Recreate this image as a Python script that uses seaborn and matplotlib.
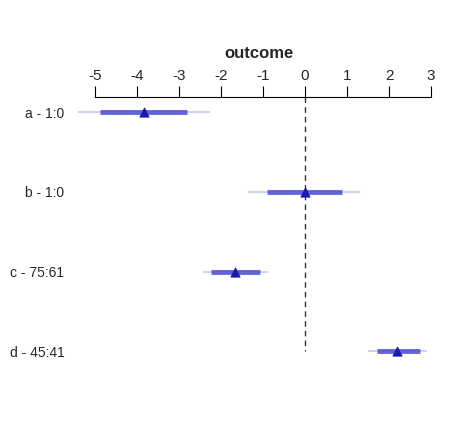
import matplotlib
matplotlib.use("Agg")
import matplotlib.pyplot as plt
import seaborn as sns
import pandas as pd

labels = ["a - 1:0", "b - 1:0", "c - 75:61", "d - 45:41"]
est = [-3.83, 0.0, -1.67, 2.19]
lo95 = [-5.4, -1.36, -2.43, 1.5]
hi95 = [-2.26, 1.31, -0.88, 2.9]
lo80 = [-4.88, -0.9, -2.24, 1.71]
hi80 = [-2.81, 0.88, -1.07, 2.74]
ticks = [-5, -4, -3, -2, -1, 0, 1, 2, 3]

sns.set_style("white")
plt.rcParams['font.family'] = ['Liberation Sans', 'DejaVu Sans']
W, H = 474, 445
fig = plt.figure(figsize=(W/100, H/100), dpi=100)
x0, x1 = -5.5, 3.3
px0 = 95 + (x0 + 5) * 42
px1 = 95 + (x1 + 5) * 42
top, bot = 97, 420
ax = fig.add_axes([px0/W, 1 - bot/H, (px1-px0)/W, (bot-top)/H])
ax.set_xlim(x0, x1)
ax.set_ylim(4.86, 0.81)
ypos = [1, 2, 3, 4]
df = pd.DataFrame({"est": est, "y": ypos})
ax.vlines(0, 0.81, 4, colors="#333333", linestyles=(0, (4, 3)), lw=1)
ax.hlines(ypos, lo95, hi95, colors="#c8c8f0", lw=1.2, zorder=2)
ax.hlines(ypos, lo80, hi80, colors="#5555d5", lw=3.5, alpha=0.9, zorder=3)
sns.scatterplot(data=df, x="est", y="y", marker="^", s=45, color="#1a1ab0", edgecolor="#1a1ab0", ax=ax, zorder=4)
for s in ["left", "right", "bottom"]:
    ax.spines[s].set_visible(False)
ax.spines["top"].set_bounds(-5, 3)
ax.spines["top"].set_color("black")
ax.xaxis.tick_top()
ax.xaxis.set_label_position("top")
ax.set_xticks(ticks)
ax.set_xticklabels([str(t) for t in ticks], fontsize=11)
ax.tick_params(axis="x", length=8, color="black", pad=2)
ax.set_xlabel("outcome", fontsize=12, fontweight="bold", labelpad=8)
ax.set_ylabel("")
ax.set_yticks(ypos)
ax.set_yticklabels(labels, fontsize=10)
ax.tick_params(axis="y", length=0, pad=7)
fig.savefig("out.png", dpi=100)
